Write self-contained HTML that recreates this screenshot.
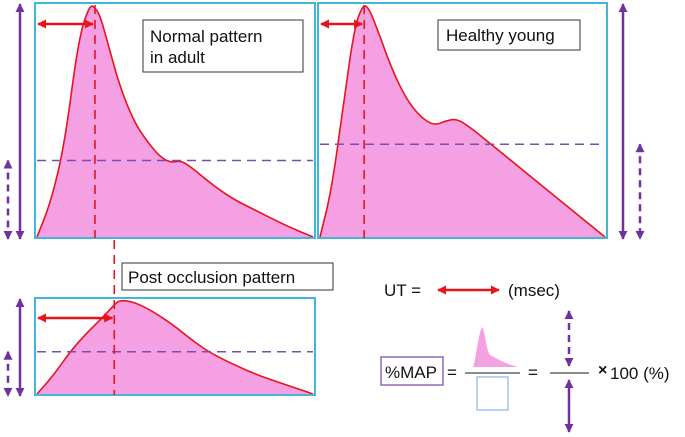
<!DOCTYPE html>
<html><head><meta charset="utf-8"><style>
body{margin:0;background:#fff;width:685px;height:437px;overflow:hidden}
svg{display:block}
text{font-family:"Liberation Sans","DejaVu Sans",sans-serif;fill:#111}
</style></head><body>
<svg id="s" width="685" height="437" viewBox="0 0 685 437">
<defs>
<marker id="ar" viewBox="0 0 10 10" refX="9" refY="5" markerWidth="3.6" markerHeight="3.6" orient="auto-start-reverse"><path d="M0,0L10,5L0,10z" fill="#e8141c"/></marker>
<marker id="ap" viewBox="0 0 10 10" refX="9" refY="5" markerWidth="3.6" markerHeight="3.6" orient="auto-start-reverse"><path d="M0,0L10,5L0,10z" fill="#7030a0"/></marker>
</defs>
<g id="g"></g>
<rect x="143" y="20" width="160" height="52" fill="#fff" stroke="#333"/>
<text x="150" y="42" font-size="17">Normal pattern</text>
<text x="150" y="63" font-size="17">in adult</text>
<rect x="438" y="20" width="142" height="30" fill="#fff" stroke="#333"/>
<text x="446" y="41" font-size="17">Healthy young</text>
<rect x="122" y="263" width="211" height="27" fill="#fff" stroke="#333"/>
<text x="128" y="283" font-size="17">Post occlusion pattern</text>
<text x="384" y="296" font-size="17">UT =</text>
<line x1="438" y1="290" x2="499" y2="290" stroke="#e8141c" stroke-width="2.5" marker-start="url(#ar)" marker-end="url(#ar)"/>
<text x="508" y="296" font-size="17">(msec)</text>
<rect x="381" y="357" width="62" height="28" fill="#fff" stroke="#8e6bb5" stroke-width="1.5"/>
<text x="385" y="378" font-size="17">%MAP</text>
<text x="447" y="378" font-size="17">=</text>
<line x1="465" y1="373" x2="520" y2="373" stroke="#666" stroke-width="1.5"/>
<path d="M473,367 C476,360 478,335 482,327 C485,330 486,350 490,355 C495,357 500,362 518,367 Z" fill="#f6a0e4"/>
<rect x="477" y="377" width="31" height="33" fill="none" stroke="#9fc4ea" stroke-width="1.5"/>
<text x="528" y="378" font-size="17">=</text>
<line x1="550" y1="373" x2="589" y2="373" stroke="#666" stroke-width="1.5"/>
<line x1="569" y1="311" x2="569" y2="366" stroke="#7030a0" stroke-width="2.5" stroke-dasharray="7,5" marker-start="url(#ap)" marker-end="url(#ap)"/>
<line x1="569" y1="380" x2="569" y2="432" stroke="#7030a0" stroke-width="2.5" marker-start="url(#ap)" marker-end="url(#ap)"/>
<text x="598" y="375" font-size="16" font-weight="bold" fill="#444">×</text>
<text x="610" y="379" font-size="17">100 (%)</text>
</svg>
<script>
// normalized waveform data: x fraction of box width, y fraction of box height (0=baseline)
const adultX=[0,0.05,0.1,0.15,0.19,0.21,0.23,0.26,0.3,0.35,0.4,0.45,0.49,0.52,0.56,0.62,0.7,0.8,0.9,1];
const adultY=[0,0.15,0.4,0.85,1,0.99,0.95,0.82,0.65,0.5,0.41,0.34,0.32,0.33,0.3,0.24,0.17,0.11,0.05,0];
const youngX=[0,0.04,0.08,0.12,0.15,0.17,0.2,0.25,0.3,0.35,0.4,0.44,0.48,0.53,0.6,0.7,0.8,0.9,1];
const youngY=[0,0.2,0.55,0.9,1,0.99,0.9,0.73,0.6,0.52,0.48,0.5,0.51,0.47,0.4,0.3,0.2,0.1,0];
const postX=[0,0.06,0.12,0.18,0.24,0.28,0.3,0.35,0.42,0.5,0.55,0.62,0.7,0.8,0.9,1];
const postY=[0,0.2,0.45,0.65,0.82,0.95,1,0.98,0.88,0.72,0.6,0.45,0.33,0.2,0.1,0];
const panels=[
 {name:'adult',x:35,y:3,w:280,h:235,X:adultX,Y:adultY,peak:0.21,mean:0.33},
 {name:'young',x:318,y:3,w:289,h:235,X:youngX,Y:youngY,peak:0.155,mean:0.4,arrR:true},
 {name:'post',x:35,y:298,w:280,h:97,X:postX,Y:postY,peak:0.28,mean:0.45}
];
const NS='http://www.w3.org/2000/svg',G=document.getElementById('g');
function mk(t,a,n){const e=document.createElementNS(NS,t);for(const k in a)e.setAttribute(k,a[k]);


G.appendChild(e);return e;}
panels.forEach(p=>{
 const sx=v=>p.x+2+v*(p.w-4), sy=v=>p.y+p.h-1-v*(p.h-3);
 let d='M'+sx(p.X[0])+','+sy(p.Y[0]);
 for(let i=1;i<p.X.length;i++){const x0=sx(p.X[i-1]),y0=sy(p.Y[i-1]),x1=sx(p.X[i]),y1=sy(p.Y[i]),mx=(x0+x1)/2;d+=' Q'+x0+','+y0+' '+mx+','+(y0+y1)/2;}
 d+=' L'+sx(1)+','+sy(0);
 mk('path',{d:d+' Z',fill:'#f6a0e4',stroke:'none'},p.name+'-waveform-fill');
 mk('path',{d:d,fill:'none',stroke:'#e8141c','stroke-width':1.6},p.name+'-waveform-line');
 mk('rect',{x:p.x,y:p.y,width:p.w,height:p.h,fill:'none',stroke:'#41b6d9','stroke-width':2},p.name+'-panel-frame');
 const mY=sy(p.mean),pk=sx(p.peak);
 mk('line',{x1:p.x+2,y1:mY,x2:p.x+p.w-2,y2:mY,stroke:'#7a4db0','stroke-width':1.5,'stroke-dasharray':'9,6'},p.name+'-mean-line');
 mk('line',{x1:pk,y1:p.name=='post'?240:p.y+2,x2:pk,y2:p.y+p.h,stroke:'#e8141c','stroke-width':1.6,'stroke-dasharray':'9,6'},p.name+'-peak-line');
 const ay=p.y+(p.name=='post'?20:21);
 mk('line',{x1:p.x+3,y1:ay,x2:pk-2,y2:ay,stroke:'#e8141c','stroke-width':2.5,'marker-start':'url(#ar)','marker-end':'url(#ar)'},p.name+'-ut-arrow');
 const ax=p.arrR?p.x+p.w+16:p.x-15, dx=p.arrR?p.x+p.w+33:p.x-27;
 mk('line',{x1:ax,y1:p.y+1,x2:ax,y2:p.y+p.h+1,stroke:'#7030a0','stroke-width':2.5,'marker-start':'url(#ap)','marker-end':'url(#ap)'},p.name+'-amplitude-arrow');
 mk('line',{x1:dx,y1:mY,x2:dx,y2:p.y+p.h+1,stroke:'#7030a0','stroke-width':2.5,'stroke-dasharray':'7,5','marker-start':'url(#ap)','marker-end':'url(#ap)'},p.name+'-mean-arrow');
});
</script>
</body></html>
